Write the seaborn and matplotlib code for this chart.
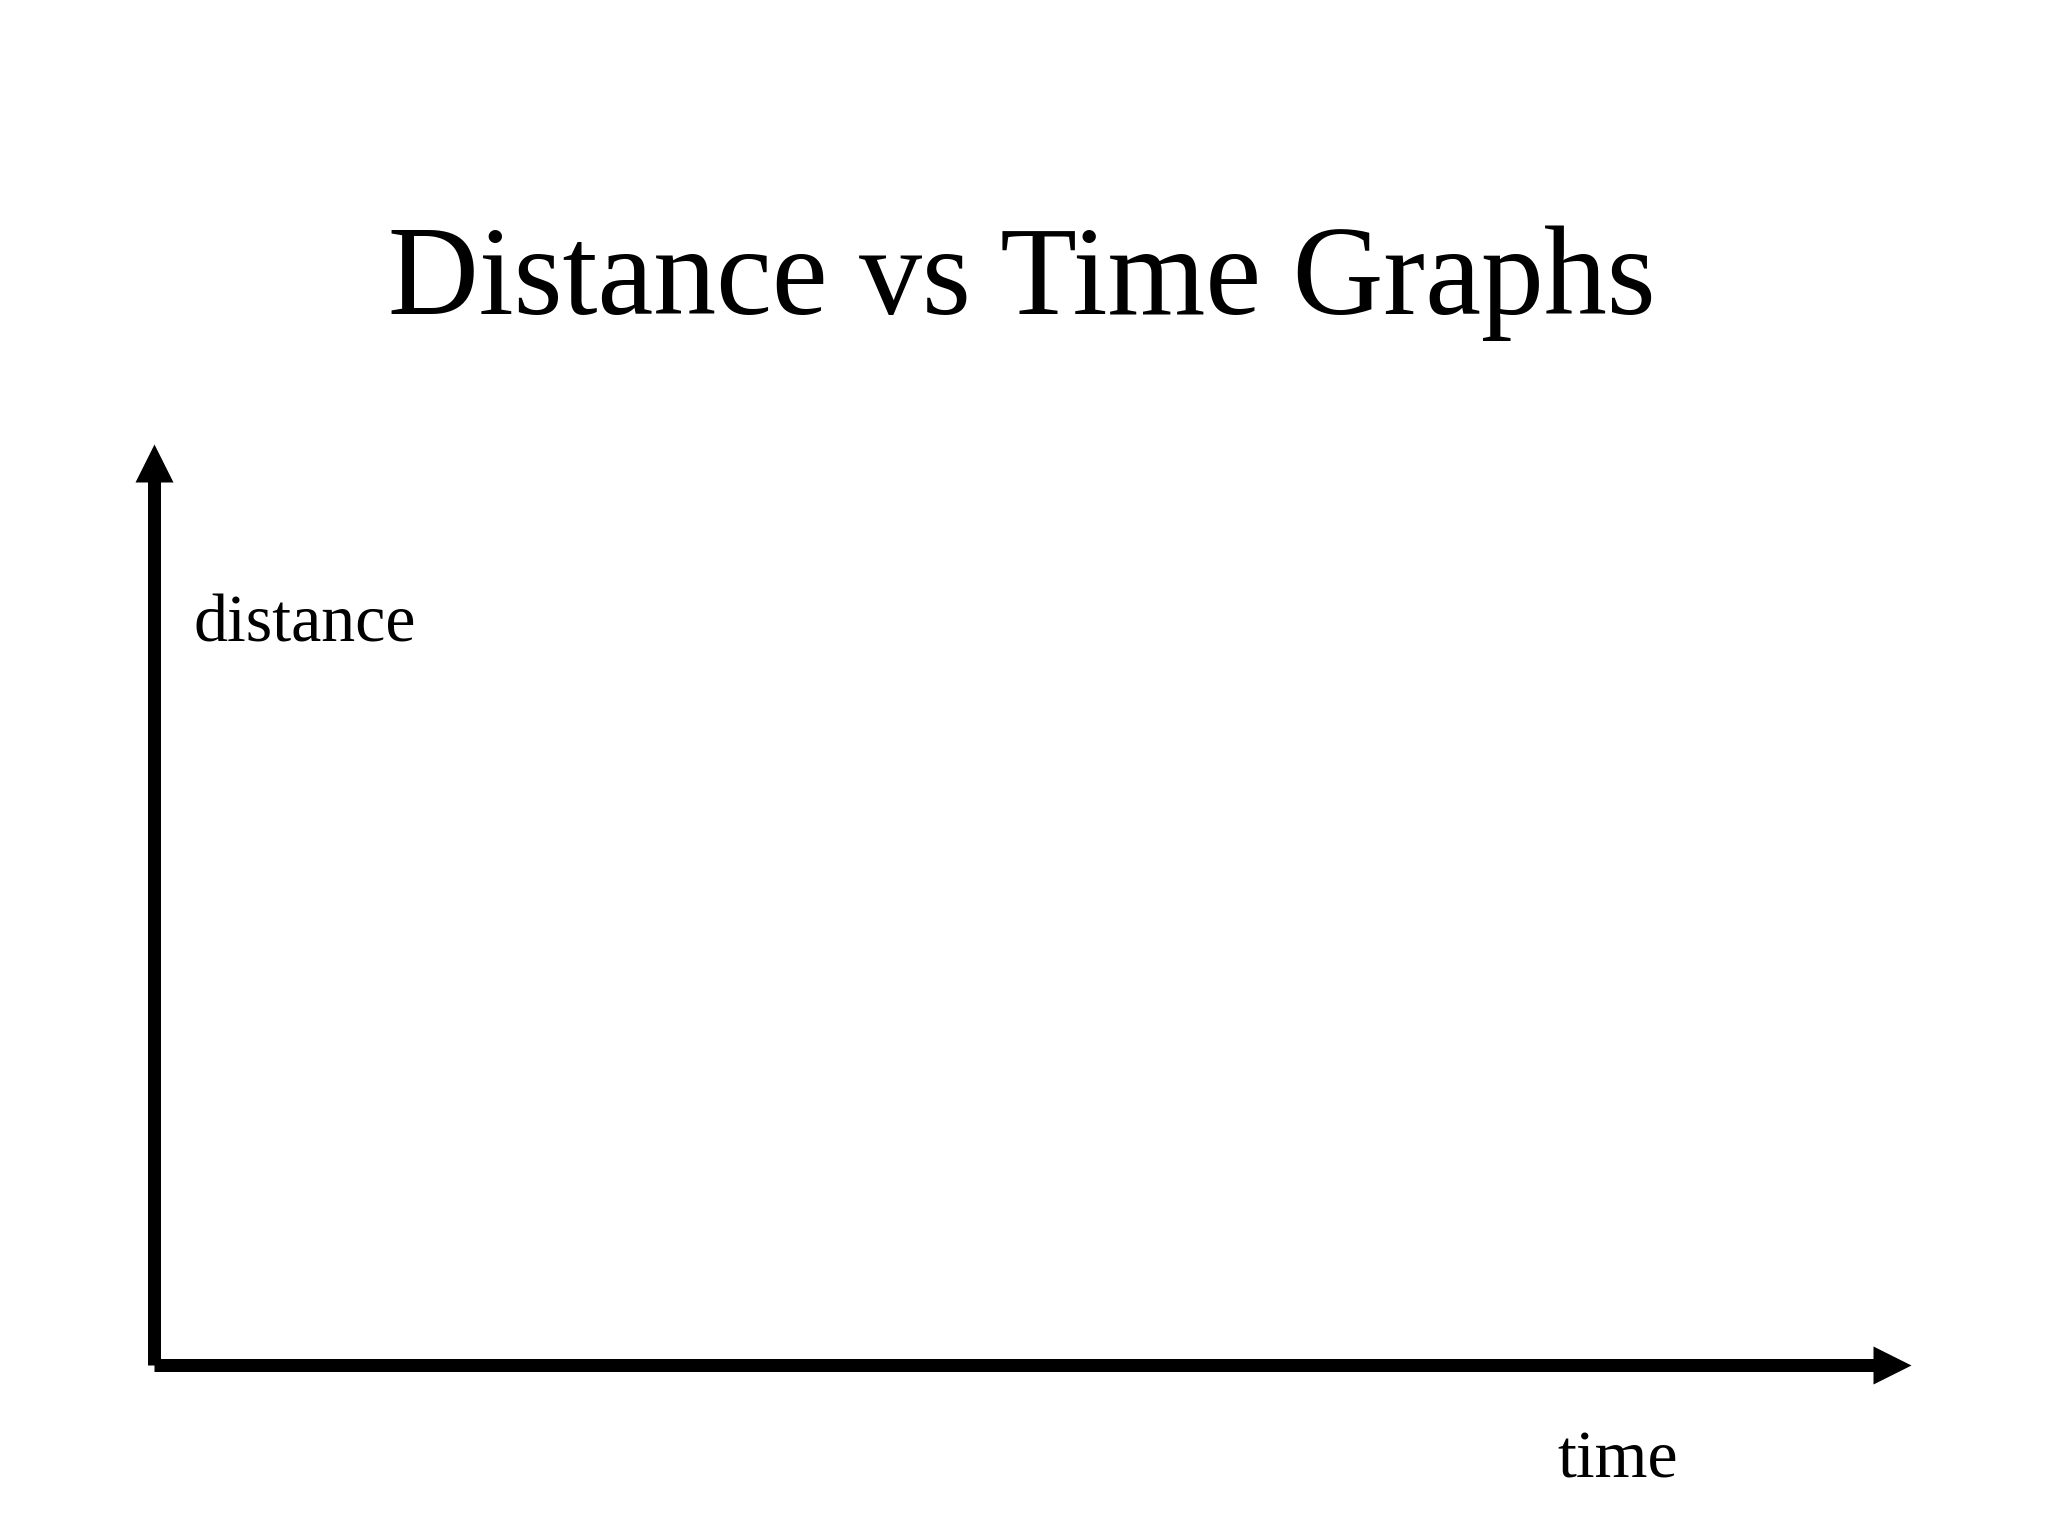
import matplotlib
matplotlib.use("Agg")
import matplotlib.pyplot as plt
from matplotlib.path import Path
import seaborn as sns

# ---- content ----
title_text = "Distance vs Time Graphs"
x_label = "time"
y_label = "distance"

sns.set_theme(style="white")
plt.rcParams["font.family"] = ["Liberation Serif", "DejaVu Serif"]

fig = plt.figure(figsize=(20.48, 15.36), dpi=100)
fig.patch.set_facecolor("white")

# axes whose origin is the corner of the arrows; top/right are the arrow tips
ax = fig.add_axes([154 / 2048, 171 / 1536, 1757 / 2048, 921 / 1536])
ax.set_facecolor("white")
ax.set_xlim(0, 1)
ax.set_ylim(0, 1)
ax.set_xticks([])
ax.set_yticks([])
sns.despine(ax=ax, left=True, bottom=True, top=True, right=True)

lw = 13 * 72 / 100  # 13 px thick axis lines
head_ms = 38 * 2 * 0.72  # 38 px long arrow heads

# vertical axis line and arrow head
ax.plot([0, 0], [0, 0.962], color="black", lw=lw, solid_capstyle="butt",
        transform=ax.transAxes, clip_on=False)
up_head = Path([(0, 0), (-19, -38), (19, -38), (0, 0)],
               [Path.MOVETO, Path.LINETO, Path.LINETO, Path.CLOSEPOLY])
ax.plot([0], [1], marker=up_head, markersize=head_ms, color="black",
        markeredgewidth=0, transform=ax.transAxes, clip_on=False)

# horizontal axis line and arrow head
ax.plot([0, 0.981], [0, 0], color="black", lw=lw, solid_capstyle="butt",
        transform=ax.transAxes, clip_on=False)
right_head = Path([(0, 0), (-38, 19), (-38, -19), (0, 0)],
                  [Path.MOVETO, Path.LINETO, Path.LINETO, Path.CLOSEPOLY])
ax.plot([1], [0], marker=right_head, markersize=head_ms, color="black",
        markeredgewidth=0, transform=ax.transAxes, clip_on=False)

# texts
fig.text(1022 / 2048, 1 - 314 / 1536, title_text, ha="center", va="baseline",
         fontsize=90.5, color="black")
fig.text(193 / 2048, 1 - 642 / 1536, y_label, ha="left", va="baseline",
         fontsize=49, color="black")
fig.text(1557 / 2048, 1 - 1478 / 1536, x_label, ha="left", va="baseline",
         fontsize=49, color="black")

fig.savefig("out.png", dpi=100, facecolor="white")
